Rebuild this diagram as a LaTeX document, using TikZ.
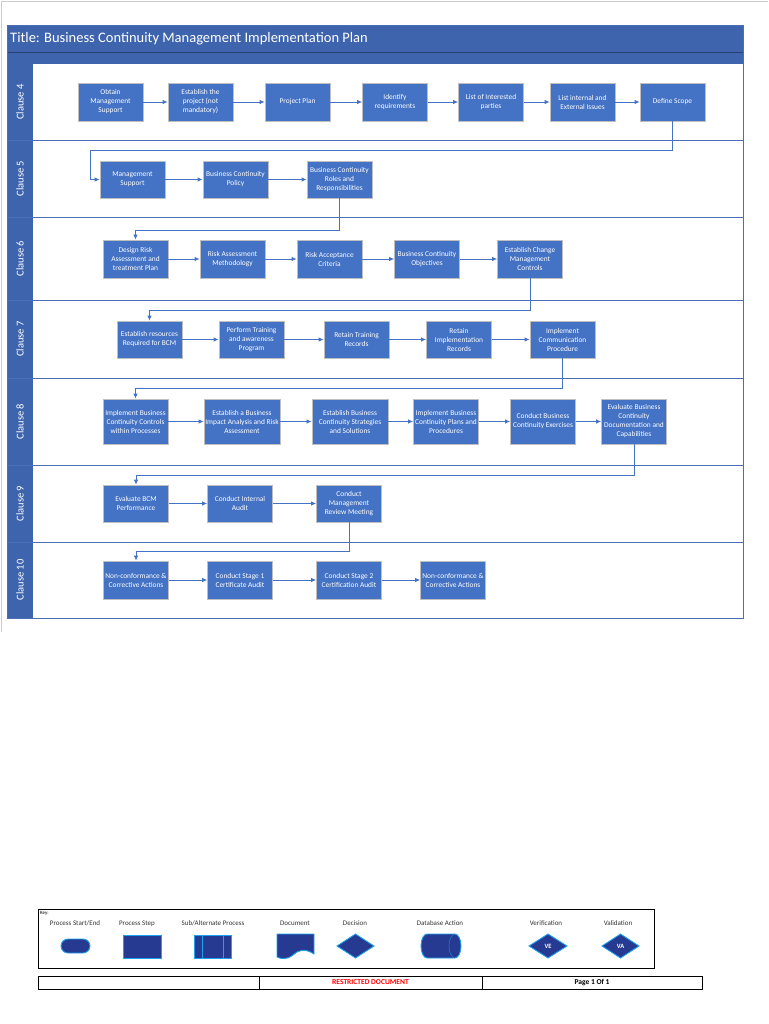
\documentclass[tikz,border=0pt]{standalone}
\usepackage{fontspec}
\setmainfont{Carlito}
\usetikzlibrary{arrows.meta}
\tikzset{ %styles of the plan
    stepbox/.style={draw=boxrim, fill=boxblue, text=white, line width=0.8pt, minimum width=65pt, minimum height=38pt, inner sep=1pt, align=center, font=\fontsize{7.4}{9}\selectfont},
    flow/.style={draw=boxblue, line width=0.8pt, -{Latex[length=5pt,width=4.5pt]}},
    lanetag/.style={rotate=90, text=white, font=\fontsize{10.5}{12}\selectfont},
    keyshape/.style={fill=keynavy, draw=keyrim, line width=0.9pt},
    keytag/.style={text=black!80, inner sep=0pt, font=\fontsize{7}{8}\selectfont},
    foottag/.style={inner sep=0pt, font=\bfseries\fontsize{7.5}{9}\selectfont},
}
\definecolor{titleblue}{HTML}{3F64AE}
\definecolor{boxblue}{HTML}{4472C4}
\definecolor{boxrim}{HTML}{BFBFBF}
\definecolor{laneline}{HTML}{4A6FB5}
\definecolor{keynavy}{HTML}{263A92}
\definecolor{keyrim}{HTML}{1FA2EE}
\definecolor{restrictred}{HTML}{FF0000}

\begin{document}
\begin{tikzpicture}[x=1pt, y=-1pt]
	\useasboundingbox (0,0) rectangle (768,1024);
	\draw[black!20] (1,632) -- (1,1) -- (768,1);
	% frame and lanes
	\fill[titleblue] (7,25) rectangle (743,64);
	\fill[titleblue] (7,64) rectangle (33,618);
	\draw[black!35!titleblue, line width=0.6pt] (7,52) -- (743,52);
	\node[anchor=west, text=white, inner sep=0pt, font=\fontsize{14.5}{16}\selectfont] (title) at (10,38.5) {Title: Business Continuity Management Implementation Plan};
	\foreach \y in {140,217,300,378,465,542}{
		\draw[laneline, line width=0.9pt] (7,\y) -- (743,\y);
	}
	\draw[laneline, line width=0.9pt] (7,25) rectangle (743,618);
	\foreach \n/\y in {4/102,5/178.5,6/258.5,7/339,8/421.5,9/503.5,10/580}{
		\node[lanetag] (lane\n) at (20,\y) {Clause \n};
	}
	% clause 4
	\foreach \n/\x/\t in {a/110.5/{Obtain\\Management\\Support}, b/200.5/{Establish the\\project (not\\mandatory)}, c/297.5/{Project Plan}, d/395/{Identify\\requirements}, e/491/{List of Interested\\parties}, f/582.5/{List internal and\\External Issues}, g/672.5/{Define Scope}}
		\node[stepbox] (c4\n) at (\x,102) {\t};
	\foreach \s/\e in {a/b,b/c,c/d,d/e,e/f,f/g}
		\draw[flow] (c4\s.east) -- (c4\e.west);
	% clause 5
	\foreach \n/\x/\t in {a/132.5/{Management\\Support}, b/235.5/{Business Continuity\\Policy}, c/339.5/{Business Continuity\\Roles and\\Responsibilities}}
		\node[stepbox, minimum height=37pt] (c5\n) at (\x,179.5) {\t};
	\foreach \s/\e in {a/b,b/c}
		\draw[flow] (c5\s.east) -- (c5\e.west);
	% clause 6
	\foreach \n/\x/\t in {a/135.5/{Design Risk\\Assessment and\\treatment Plan}, b/232.5/{Risk Assessment\\Methodology}, c/329.5/{Risk Acceptance\\Criteria}, d/427/{Business Continuity\\Objectives}, e/530/{Establish Change\\Management\\Controls}}
		\node[stepbox] (c6\n) at (\x,259) {\t};
	\foreach \s/\e in {a/b,b/c,c/d,d/e}
		\draw[flow] (c6\s.east) -- (c6\e.west);
	% clause 7
	\foreach \n/\x/\t in {a/149.5/{Establish resources\\Required for BCM}, b/251.5/{Perform Training\\and awareness\\Program}, c/356.5/{Retain Training\\Records}, d/459/{Retain\\Implementation\\Records}, e/562.5/{Implement\\Communication\\Procedure}}
		\node[stepbox, minimum height=37pt] (c7\n) at (\x,339.5) {\t};
	\foreach \s/\e in {a/b,b/c,c/d,d/e}
		\draw[flow] (c7\s.east) -- (c7\e.west);
	% clause 8
	\foreach \n/\x/\w/\t in {a/135.5/65/{Implement Business\\Continuity Controls\\within Processes}, b/242/76/{Establish a Business\\Impact Analysis and Risk\\Assessment}, c/350/76/{Establish Business\\Continuity Strategies\\and Solutions}, d/446/65/{Implement Business\\Continuity Plans and\\Procedures}, e/543/65/{Conduct Business\\Continuity Exercises}, f/634/65/{Evaluate Business\\Continuity\\Documentation and\\Capabilities}}
		\node[stepbox, minimum height=45pt, minimum width=\w pt] (c8\n) at (\x,421.5) {\t};
	\foreach \s/\e in {a/b,b/c,c/d,d/e,e/f}
		\draw[flow] (c8\s.east) -- (c8\e.west);
	% clause 9
	\foreach \n/\x/\t in {a/136/{Evaluate BCM\\Performance}, b/240/{Conduct Internal\\Audit}, c/349/{Conduct\\Management\\Review Meeting}}
		\node[stepbox, minimum height=37pt] (c9\n) at (\x,503.5) {\t};
	\foreach \s/\e in {a/b,b/c}
		\draw[flow] (c9\s.east) -- (c9\e.west);
	% clause 10
	\foreach \n/\x/\t in {a/136/{Non-conformance \&\\Corrective Actions}, b/240/{Conduct Stage 1\\Certificate Audit}, c/349/{Conduct Stage 2\\Certification Audit}, d/453/{Non-conformance \&\\Corrective Actions}}
		\node[stepbox] (c10\n) at (\x,580) {\t};
	\foreach \s/\e in {a/b,b/c,c/d}
		\draw[flow] (c10\s.east) -- (c10\e.west);
	% links between clauses
	\coordinate (bend5) at (90,150);
	\draw[flow] (c4g.south) |- (bend5) |- (c5a.west);
	\foreach \s/\e/\y in {c5c/c6a/230, c6e/c7a/310, c7e/c8a/388, c8f/c9a/475, c9c/c10a/551}{
		\coordinate (turn\e) at (0,\y);
		\draw[flow] (\s.south) |- (\e.north |- turn\e) -- (\e.north);
	}
	% key
	\draw[black, line width=0.8pt] (38,909) rectangle (654,968);
	\node[anchor=north west, inner sep=0pt, font=\fontsize{5}{6}\selectfont] (keyhead) at (40,911) {Key:};
	\node[keytag] (kstart) at (75,923.5) {Process Start/End};
	\node[keytag] (kstep) at (137,923.5) {Process Step};
	\node[keytag] (ksub) at (213,923.5) {Sub/Alternate Process};
	\node[keytag] (kdoc) at (295,923.5) {Document};
	\node[keytag] (kdec) at (355,923.5) {Decision};
	\node[keytag] (kdb) at (440,923.5) {Database Action};
	\node[keytag] (kver) at (546,923.5) {Verification};
	\node[keytag] (kval) at (618,923.5) {Validation};
	\draw[keyshape, rounded corners=7pt] (61,939) rectangle (90,953);
	\draw[keyshape] (123,935) rectangle (161,958);
	\draw[keyshape] (194,935) rectangle (231,958);
	\draw[keyrim, line width=0.9pt] (202,935) -- (202,958) (223,935) -- (223,958);
	\draw[keyshape] (277,934) -- (314,934) -- (314,954) .. controls (305,948) and (298,950) .. (293,955) .. controls (287,960) and (281,959) .. (277,957) -- cycle;
	\draw[keyshape] (337,946) -- (355.5,934) -- (374,946) -- (355.5,958) -- cycle;
	\draw[keyshape] (427,934) -- (455,934) arc[start angle=-90, end angle=90, x radius=6, y radius=12] -- (427,958) arc[start angle=90, end angle=270, x radius=6, y radius=12] -- cycle;
	\draw[keyrim!60!keynavy, line width=0.6pt] (455,934) arc[start angle=-90, end angle=-270, x radius=6, y radius=12];
	\draw[keyshape] (529,946) -- (548,934) -- (567,946) -- (548,958) -- cycle;
	\draw[keyshape] (602,946) -- (620.5,934) -- (639,946) -- (620.5,958) -- cycle;
	\node[text=white, inner sep=0pt, font=\bfseries\fontsize{6.5}{8}\selectfont] (kve) at (548,946) {VE};
	\node[text=white, inner sep=0pt, font=\bfseries\fontsize{6.5}{8}\selectfont] (kva) at (620.5,946) {VA};
	% footer
	\draw[black, line width=0.8pt] (38,976) rectangle (702,989) (259,976) -- (259,989) (482,976) -- (482,989);
	\node[foottag, text=restrictred] (restrict) at (370.5,982.5) {RESTRICTED DOCUMENT};
	\node[foottag] (page) at (592,982.5) {Page 1 Of 1};
\end{tikzpicture}
\end{document}
